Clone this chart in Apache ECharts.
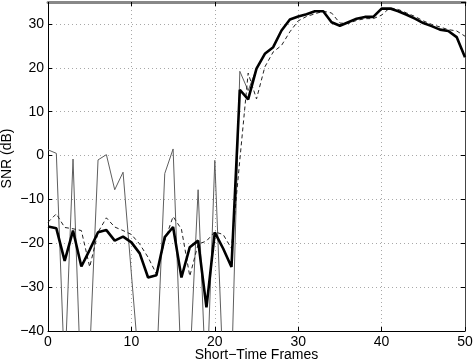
<!DOCTYPE html>
<html>
<head>
<meta charset="utf-8">
<script src="https://cdn.jsdelivr.net/npm/echarts@6/dist/echarts.min.js"></script>
<style>
html,body{margin:0;padding:0;background:#fff;}
#chart{width:474px;height:363px;}
</style>
</head>
<body>
<div id="chart"></div>
<script>
var frames = [0,1,2,3,4,5,6,7,8,9,10,11,12,13,14,15,16,17,18,19,20,21,22,23,24,25,26,27,28,29,30,31,32,33,34,35,36,37,38,39,40,41,42,43,44,45,46,47,48,49,50];
var thickSNR = [-16.2,-16.6,-24,-17.1,-25.3,-21.5,-17.5,-17,-19.4,-18.5,-19.8,-22.3,-27.8,-27.3,-18.6,-16.3,-27.8,-20.9,-19.4,-34.6,-17.5,-21.2,-25.4,15,12.8,19.8,23.2,24.7,28.5,31,31.7,32.2,32.9,32.9,30.4,29.6,30.4,31.2,31.6,31.6,33.5,33.5,32.9,32.1,31.2,30.2,29.5,28.7,28.4,27,22.4];
var dashedSNR = [-15.2,-13.3,-16.4,-16.7,-17.1,-25.4,-17.5,-14.2,-16.3,-17.1,-18,-20.2,-23.2,-27,-19.4,-13.9,-16.8,-27.5,-20.2,-19.5,-17.4,-18,-21.2,-1,18.8,12.9,20.2,23.6,25.1,28.2,30.7,31.7,32.3,32.9,32.5,30.2,30.1,30.8,31.2,31.2,32,33.7,33.3,32.5,31.7,30.7,29.9,29.3,28.7,28.4,27.2];
var thinSNR = [1.3,0.5,-50,-0.8,-55,-45.3,-1,0.2,-7.8,-3.8,-27,-50,-55,-49,-4.1,1.5,-50.4,-48,-7.8,-55,-1.1,-49.7,-50,19.2,14.8,19.8,23.2,24.7,28.5,31,31.7,32.2,32.9,32.9,30.4,29.6,30.4,31.2,31.6,31.6,33.5,33.5,32.9,32.1,31.2,30.2,29.5,28.7,28.4,27,22.4];
var xTicks = [0,10,20,30,40,50];
var yTicks = [-40,-30,-20,-10,0,10,20,30];

function pairs(vals){ return frames.map(function(f,i){ return [f, vals[i]]; }); }

var chart = echarts.init(document.getElementById('chart'), null, {renderer:'canvas'});
var font = 'Liberation Sans, Arial, Helvetica, sans-serif';
var gridLine = {show:true, lineStyle:{color:'#a8a8a8', type:[1,3], width:1}};
chart.setOption({
  animation:false,
  backgroundColor:'#fff',
  grid:{left:48, right:9, top:2, bottom:32, containLabel:false, outerBoundsMode:'none'},
  xAxis:[{
    type:'value', min:xTicks[0], max:xTicks[xTicks.length-1], interval:10,
    name:'Short\u2212Time Frames', nameLocation:'middle', nameGap:17, nameMoveOverlap:false,
    nameTextStyle:{color:'#000', fontSize:14, fontFamily:font},
    axisLine:{show:true, onZero:false, lineStyle:{color:'#000', width:1}},
    axisTick:{show:true, inside:true, length:4, lineStyle:{color:'#000'}},
    axisLabel:{color:'#000', fontSize:14, fontFamily:font, margin:4},
    splitLine:gridLine
  },{
    type:'value', position:'top', min:0, max:50, interval:10,
    axisLine:{show:true, onZero:false, lineStyle:{color:'#888', width:3}},
    axisTick:{show:true, inside:true, length:4, lineStyle:{color:'#000'}},
    axisLabel:{show:false}, splitLine:{show:false}
  }],
  yAxis:[{
    type:'value', min:yTicks[0], max:35, interval:10,
    name:'SNR (dB)', nameLocation:'middle', nameGap:34, nameMoveOverlap:false,
    nameTextStyle:{color:'#000', fontSize:14, fontFamily:font, padding:[0,0,0,16]},
    axisLine:{show:true, onZero:false, lineStyle:{color:'#000', width:1}},
    axisTick:{show:true, inside:true, length:4, lineStyle:{color:'#000'}},
    axisLabel:{color:'#000', fontSize:14, fontFamily:font, margin:4, showMaxLabel:false,
      formatter:function(v){ return v < 0 ? '\u2212' + Math.abs(v) : String(v); }},
    splitLine:gridLine
  },{
    type:'value', position:'right', min:-40, max:35, interval:10,
    axisLine:{show:true, onZero:false, lineStyle:{color:'#444', width:1}},
    axisTick:{show:true, inside:true, length:4, lineStyle:{color:'#000'}},
    axisLabel:{show:false}, splitLine:{show:false}
  }],
  series:[{
    type:'line', data:pairs(thinSNR), showSymbol:false, symbol:'none', clip:true,
    lineStyle:{color:'#5e5e5e', width:1}, z:2
  },{
    type:'line', data:pairs(dashedSNR), showSymbol:false, symbol:'none', clip:true,
    lineStyle:{color:'#222', width:1, type:[4,3]}, z:3
  },{
    type:'line', data:pairs(thickSNR), showSymbol:false, symbol:'none', clip:true,
    lineStyle:{color:'#000', width:2.6}, z:4
  }]
});
</script>
</body>
</html>
